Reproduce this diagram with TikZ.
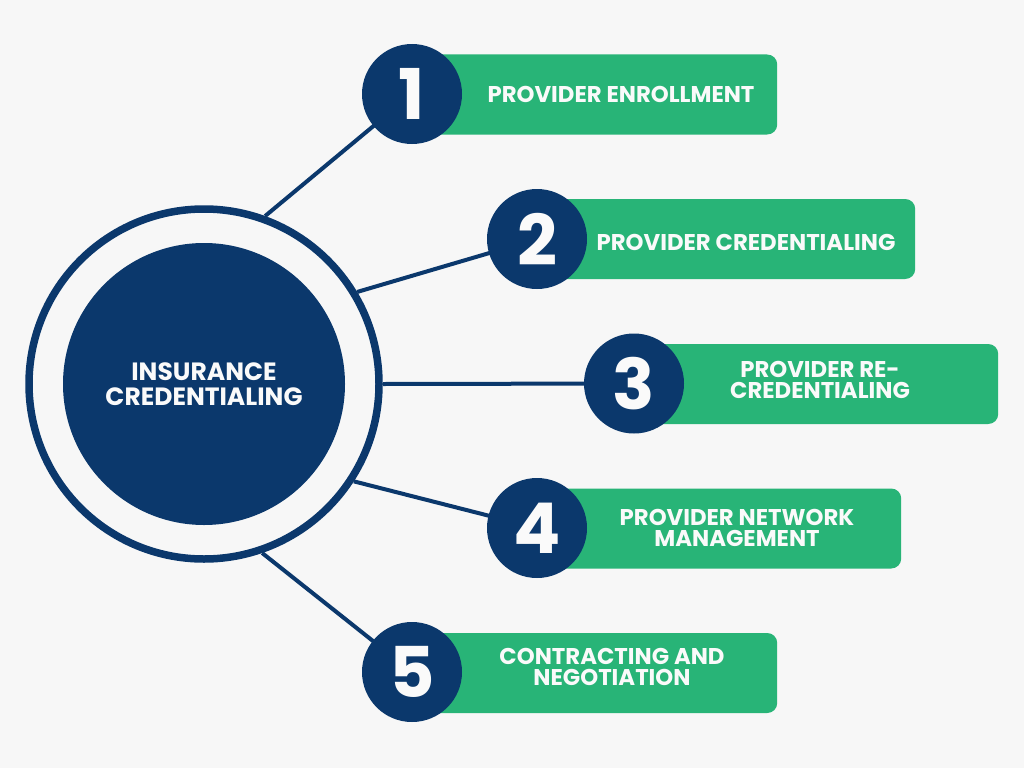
\documentclass[tikz,border=0pt]{standalone}
\usepackage{fontspec}
\setmainfont{Poppins}
\pgfdeclarelayer{background}
\pgfsetlayers{background,main}
\definecolor{navy}{HTML}{0B386C}
\definecolor{grn}{HTML}{28B477}
\definecolor{bg}{HTML}{F7F7F7}
\definecolor{txt}{HTML}{FAFAFA}
\tikzset{
  numc/.style={circle, fill=navy, minimum size=100pt, inner sep=0pt, text=txt,
    font=\fontsize{70}{70}\selectfont\bfseries},
  stepbox/.style={fill=grn, rounded corners=10pt, minimum height=80pt, inner sep=0pt, anchor=west},
  lab/.style={text=txt, align=center, font=\fontsize{22.8}{21}\selectfont\bfseries, inner sep=0pt},
  link/.style={draw=navy, line width=4pt},
}
\begin{document}
\begin{tikzpicture}[x=1pt,y=-1pt]
\useasboundingbox (0,0) rectangle (1024,768);
% center
\node[circle, draw=navy, line width=7.5pt, minimum size=350pt, inner sep=0pt] (ring) at (204,384) {};
\node[circle, fill=navy, minimum size=282pt, inner sep=0pt, text=txt, align=center,
  font=\fontsize{25}{25}\selectfont\bfseries] (core) at (204,384) {INSURANCE\\CREDENTIALING};
% number circles
\node[numc] (n1) at (412,94) {1};
\node[numc] (n2) at (537,239) {2};
\node[numc] (n3) at (634,383.5) {3};
\node[numc] (n4) at (537,528) {4};
\node[numc] (n5) at (412,672) {5};
% boxes and links
\begin{pgfonlayer}{background}
\fill[bg] (0,0) rectangle (1024,768);
\node[stepbox, minimum width=365pt] (b1) at (412,94.5) {};
\node[stepbox, minimum width=378pt] (b2) at (537,239) {};
\node[stepbox, minimum width=364pt] (b3) at (634,384) {};
\node[stepbox, minimum width=364pt] (b4) at (537,528.5) {};
\node[stepbox, minimum width=365pt] (b5) at (412,673) {};
\draw[link] (ring.70) -- (n1.center);
\draw[link] (ring.31) -- (n2.center);
\draw[link] (ring.0) -- (n3.center);
\draw[link] (ring.-33) -- (n4.center);
\draw[link] (ring.-71) -- (n5.center);
\end{pgfonlayer}
% labels
\node[lab] (t1) at (621,94) {PROVIDER ENROLLMENT};
\node[lab] (t2) at (746,242) {PROVIDER CREDENTIALING};
\node[lab] (t3) at (820,380) {PROVIDER RE-\\CREDENTIALING};
\node[lab] (t4) at (737,528) {PROVIDER NETWORK\\MANAGEMENT};
\node[lab] (t5) at (612,667) {CONTRACTING AND\\NEGOTIATION};
\end{tikzpicture}
\end{document}
